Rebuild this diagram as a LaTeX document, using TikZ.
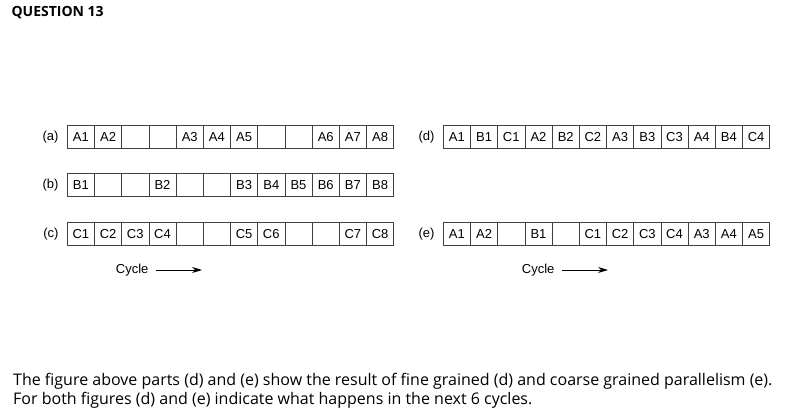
\documentclass[tikz,border=0pt]{standalone}
\usepackage{fontspec}
\setmainfont{Open Sans}
\newfontfamily\arialf{Liberation Sans}
\usetikzlibrary{arrows.meta}
\begin{document}
\begin{tikzpicture}[x=1pt,y=-1pt,
  cellbox/.style={draw=black!75,line width=0.6pt,minimum width=27.2pt,minimum height=23pt,inner sep=0pt,anchor=west,font=\arialf\fontsize{13}{14}\selectfont},
  lbl/.style={font=\arialf\fontsize{13}{14}\selectfont,anchor=east},
  cyc/.style={font=\arialf\fontsize{13}{14}\selectfont,anchor=east},
  arr/.style={-{Stealth[length=10pt,width=6pt]},line width=0.8pt}]
\useasboundingbox (0,0) rectangle (794,417);
\node[anchor=west,font=\bfseries\fontsize{14}{16}\selectfont] (title) at (8,13) {QUESTION 13};
\def\row#1#2#3#4{%
  \foreach \t [count=\i from 0] in {#4} {\node[cellbox] (#1\i) at ({#2+\i*27.2},#3) {\t};}}
\row{a}{67}{137}{A1,A2,,,A3,A4,A5,,,A6,A7,A8}
\row{b}{67}{185}{B1,,,B2,,,B3,B4,B5,B6,B7,B8}
\row{c}{67}{234}{C1,C2,C3,C4,,,C5,C6,,,C7,C8}
\row{d}{443}{137}{A1,B1,C1,A2,B2,C2,A3,B3,C3,A4,B4,C4}
\row{e}{443}{234}{A1,A2,,B1,,C1,C2,C3,C4,A3,A4,A5}
\node[lbl] (la) at (62,137) {(a)};
\node[lbl] (lb) at (62,185) {(b)};
\node[lbl] (lc) at (62,234) {(c)};
\node[lbl] (ld) at (438,137) {(d)};
\node[lbl] (le) at (438,234) {(e)};
\node[cyc] (c1) at (152,270) {Cycle};
\coordinate (c1e) at (202,270);
\draw[arr] ([xshift=4pt]c1.east) -- (c1e);
\node[cyc] (c2) at (558,270) {Cycle};
\coordinate (c2e) at (608,270);
\draw[arr] ([xshift=4pt]c2.east) -- (c2e);
\node[anchor=west,font=\fontsize{16}{19}\selectfont,align=left,inner sep=0pt] (txt) at (13,391)
 {The figure above parts (d) and (e) show the result of fine grained (d) and coarse grained parallelism (e).\\For both figures (d) and (e) indicate what happens in the next 6 cycles.};
\end{tikzpicture}
\end{document}
